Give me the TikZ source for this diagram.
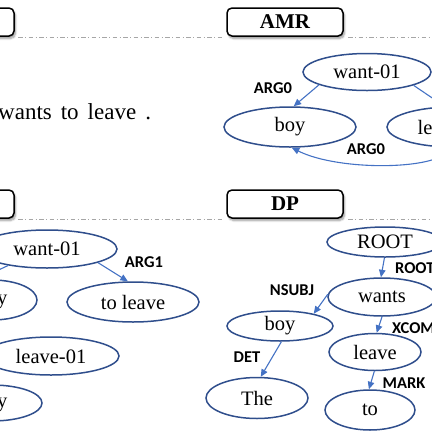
\documentclass[tikz,border=0pt]{standalone}
\usepackage{fontspec}
\setmainfont{Liberation Serif}
\newfontfamily\lblfont{Carlito}
\usetikzlibrary{shapes.geometric,arrows.meta,shadows.blur}
\definecolor{ellblue}{HTML}{2F4E8C}
\definecolor{arrblue}{HTML}{4472C4}
\definecolor{sepgray}{HTML}{A6A6A6}
\begin{document}
\begin{tikzpicture}[x=1pt,y=-1pt,
  gnode/.style={ellipse, draw=ellblue, line width=1.5pt, inner sep=0pt, font=\fontsize{20.5}{24}\selectfont},
  edge/.style={draw=arrblue, line width=1.1pt, -{Triangle[length=7.5pt,width=6.5pt]}},
  elabel/.style={font=\lblfont\bfseries\fontsize{16.5}{18}\selectfont, inner sep=0pt},
  tagbox/.style={draw=black, line width=1.5pt, rounded corners=5pt, fill=white, inner sep=0pt,
    minimum width=116pt, minimum height=28pt, font=\bfseries\fontsize{21}{24}\selectfont,
    blur shadow={shadow xshift=1.5pt, shadow yshift=-2.5pt, shadow blur steps=6}},
  sep/.style={draw=sepgray, line width=0.9pt, dash pattern=on 4.5pt off 2.5pt on 1pt off 2.5pt}]
\useasboundingbox (0,0) rectangle (432,432);

% header boxes and separators
\node[tagbox] (tlbox) at (-44,22) {};
\node[tagbox] (amrbox) at (285,22) {AMR};
\node[tagbox] (blbox) at (-44,204) {};
\node[tagbox] (dpbox) at (285,204) {DP};
\draw[sep] (18,37) -- (222,37);
\draw[sep] (348,37) -- (432,37);
\draw[sep] (18,219) -- (222,219);
\draw[sep] (348,219) -- (432,219);

% sentence
\node[anchor=base west, font=\fontsize{23}{28}\selectfont, inner sep=0pt] (sent) at (-2,119) {\spaceskip=9pt wants to leave .};

% AMR
\node[gnode, minimum width=128pt, minimum height=37pt] (a-want) at (367,72) {want-01};
\node[gnode, minimum width=132pt, minimum height=40pt] (a-boy) at (290,127) {boy};
\node[gnode, minimum width=132pt, minimum height=40pt] (a-leave) at (453,127) {leave-01};
\draw[edge] (a-want.195) -- (a-boy.80);
\draw[edge] (a-want.-16) -- (a-leave.112);
\draw[edge] (a-leave.-100) .. controls (445,170) and (340,172) .. (a-boy.-85);
\node[elabel] (la1) at (273,88) {ARG0};
\node[elabel] (la2) at (366,149) {ARG0};

% bottom-left graph
\node[gnode, minimum width=140pt, minimum height=38pt] (s-want) at (47,249) {want-01};
\node[gnode, minimum width=90pt, minimum height=40pt] (s-boy) at (-8,300) {boy};
\node[gnode, minimum width=132pt, minimum height=40pt] (s-toleave) at (133,302) {to leave};
\node[gnode, minimum width=136pt, minimum height=38pt] (s-leave) at (51,356) {leave-01};
\node[gnode, minimum width=100pt, minimum height=36pt] (s-boy2) at (-8,403) {boy};
\draw[edge] (s-want.-15) -- (s-toleave.104);
\draw[edge] (s-want.203) -- (s-boy.130);
\node[elabel] (ls1) at (144,262) {ARG1};

% DP
\node[gnode, minimum width=116pt, minimum height=30pt] (d-root) at (385,242) {ROOT};
\node[gnode, minimum width=108pt, minimum height=38pt] (d-wants) at (382,297) {wants};
\node[gnode, minimum width=106pt, minimum height=30pt] (d-boy) at (280,326) {boy};
\node[gnode, minimum width=92pt, minimum height=37pt] (d-leave) at (375,352) {leave};
\node[gnode, minimum width=90pt, minimum height=40pt] (d-to) at (370,410) {to};
\node[gnode, minimum width=102pt, minimum height=41pt] (d-the) at (257,398) {The};
\draw[edge] (d-root.-92) -- (d-wants.93);
\draw[edge] (d-wants.177) -- (d-boy.20);
\draw[edge] (d-wants.-90) -- (d-leave.85);
\draw[edge] (d-boy.-85) -- (d-the.80);
\draw[edge] (d-leave.-92) -- (d-to.93);
\node[elabel, anchor=west] (ld1) at (395,268) {ROOT};
\node[elabel] (ld2) at (292,290) {NSUBJ};
\node[elabel, anchor=west] (ld3) at (392,328) {XCOMP};
\node[elabel] (ld4) at (247,357) {DET};
\node[elabel] (ld5) at (404,383) {MARK};
\end{tikzpicture}
\end{document}
